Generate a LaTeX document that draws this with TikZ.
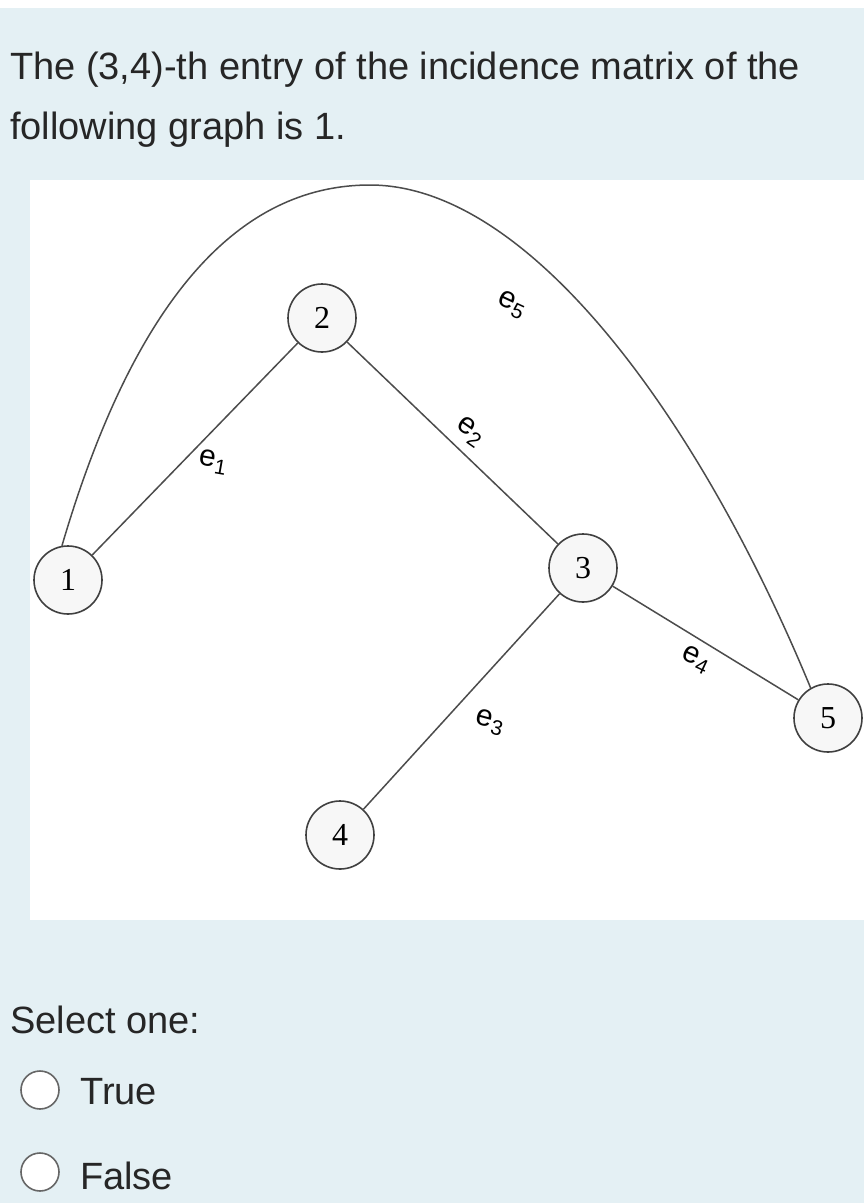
\documentclass[tikz,border=0pt]{standalone}
\usepackage{fontspec}
\setmainfont{Liberation Sans}
\newfontfamily\serifnum{Liberation Serif}
\begin{document}
\begin{tikzpicture}[x=1pt,y=-1pt,
  vtx/.style={circle,draw=black!75,fill=black!3,line width=1.6pt,minimum size=68pt,inner sep=0pt,font=\serifnum\fontsize{32}{34}\selectfont},
  edg/.style={draw=black!70,line width=1.5pt},
  elab/.style={font=\fontsize{30}{30}\selectfont,inner sep=1pt},
  qtext/.style={anchor=west,font=\fontsize{38}{40}\selectfont,text=black!85,xscale=1.0,inner sep=0pt},
  radio/.style={circle,draw=black!60,line width=1.6pt,fill=white,minimum size=38pt,inner sep=0pt}]
\fill[fill={rgb,255:red,228;green,240;blue,244}] (0,0) rectangle (864,1203);
\useasboundingbox (0,0) rectangle (864,1203);
\fill[white] (0,0) rectangle (864,8);
\fill[white] (30,180) rectangle (864,920);
\node[qtext] (q1) at (10,70) {The (3,4)-th entry of the incidence matrix of the};
\node[qtext] (q2) at (10,130) {following graph is 1.};
\node[vtx] (v1) at (68,580) {1};
\node[vtx] (v2) at (322,318) {2};
\node[vtx] (v3) at (583,568) {3};
\node[vtx] (v4) at (340,835) {4};
\node[vtx] (v5) at (828,718) {5};
\draw[edg] (v1) -- (v2);
\draw[edg] (v2) -- (v3);
\draw[edg] (v3) -- (v4);
\draw[edg] (v3) -- (v5);
\draw[edg] (v1.100) .. controls (140,280) and (250,185) .. (370,185)
  .. controls (530,185) and (700,420) .. (v5.120);
\node[elab,rotate=-10] (l1) at (213,462) {e\textsubscript{1}};
\node[elab,rotate=-35] (l2) at (470,432) {e\textsubscript{2}};
\node[elab,rotate=-15] (l3) at (490,722) {e\textsubscript{3}};
\node[elab,rotate=-25] (l4) at (696,660) {e\textsubscript{4}};
\node[elab,rotate=-25] (l5) at (512,305) {e\textsubscript{5}};
\node[qtext] (s) at (10,1020) {Select one:};
\node[radio] (r1) at (40,1090) {};
\node[qtext] (t1) at (80,1092) {True};
\node[radio] (r2) at (40,1172) {};
\node[qtext] (t2) at (80,1176) {False};
\end{tikzpicture}
\end{document}
